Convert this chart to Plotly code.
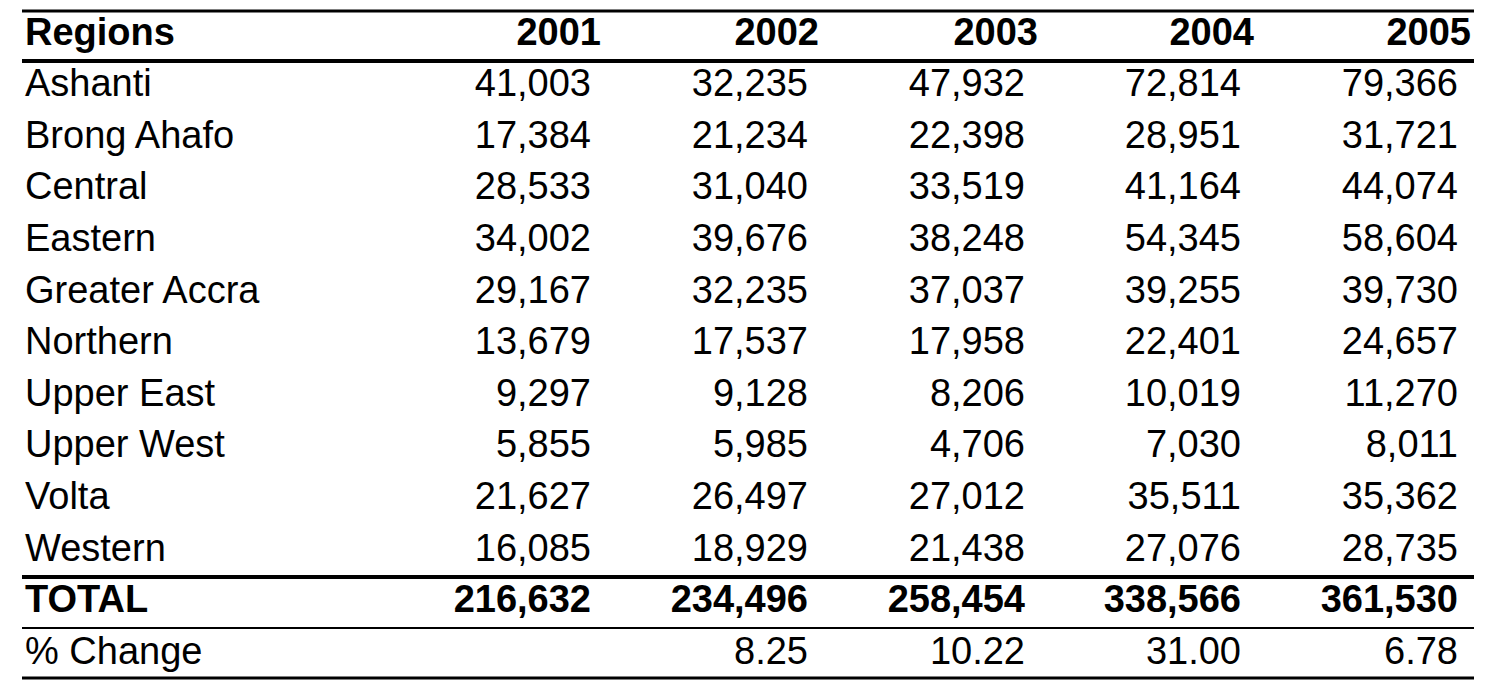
import plotly.graph_objects as go

years = ["2001", "2002", "2003", "2004", "2005"]
regions = ["Ashanti", "Brong Ahafo", "Central", "Eastern", "Greater Accra", "Northern",
           "Upper East", "Upper West", "Volta", "Western"]
v2001 = [41003, 17384, 28533, 34002, 29167, 13679, 9297, 5855, 21627, 16085]
v2002 = [32235, 21234, 31040, 39676, 32235, 17537, 9128, 5985, 26497, 18929]
v2003 = [47932, 22398, 33519, 38248, 37037, 17958, 8206, 4706, 27012, 21438]
v2004 = [72814, 28951, 41164, 54345, 39255, 22401, 10019, 7030, 35511, 27076]
v2005 = [79366, 31721, 44074, 58604, 39730, 24657, 11270, 8011, 35362, 28735]
totals = [216632, 234496, 258454, 338566, 361530]
pct_change = ["", "8.25", "10.22", "31.00", "6.78"]

W, H = 1494, 680
FONT = "Liberation Sans, Arial"
FS = 38
row_y = [27 + 51.6 * k for k in range(13)]
num_right = [583, 800, 1017, 1233, 1450]
head_right = [593, 811, 1030, 1246, 1463]

cols = [v2001, v2002, v2003, v2004, v2005]
fig = go.Figure()

# header
fig.add_trace(go.Scatter(x=[17], y=[row_y[0]], mode="text", text=["<b>Regions</b>"],
                         textposition="middle right", textfont=dict(family=FONT, size=FS, color="black")))
fig.add_trace(go.Scatter(x=head_right, y=[row_y[0]] * 5, mode="text",
                         text=[f"<b>{y}</b>" for y in years], textposition="middle left",
                         textfont=dict(family=FONT, size=FS, color="black")))
# row labels
fig.add_trace(go.Scatter(x=[17] * 12, y=row_y[1:], mode="text",
                         text=regions + ["<b>TOTAL</b>", "% Change"], textposition="middle right",
                         textfont=dict(family=FONT, size=FS, color="black")))
# values
for i, c in enumerate(cols):
    txt = [f"{v:,}" for v in c] + [f"<b>{totals[i]:,}</b>", pct_change[i]]
    fig.add_trace(go.Scatter(x=[num_right[i]] * 12, y=row_y[1:], mode="text", text=txt,
                             textposition="middle left",
                             textfont=dict(family=FONT, size=FS, color="black")))

def hline(y, w):
    fig.add_shape(type="line", xref="x", yref="y", x0=14, x1=1466, y0=y, y1=y,
                  line=dict(color="black", width=w))

hline(3, 3)
hline(53, 4)
hline(569, 4)
hline(620, 2)
hline(670, 3)

fig.update_xaxes(range=[0, W], visible=False, fixedrange=True)
fig.update_yaxes(range=[H, 0], visible=False, fixedrange=True)
fig.update_layout(width=W, height=H, margin=dict(l=0, r=0, t=0, b=0), showlegend=False,
                  paper_bgcolor="white", plot_bgcolor="white")
fig.write_html("out.html")
